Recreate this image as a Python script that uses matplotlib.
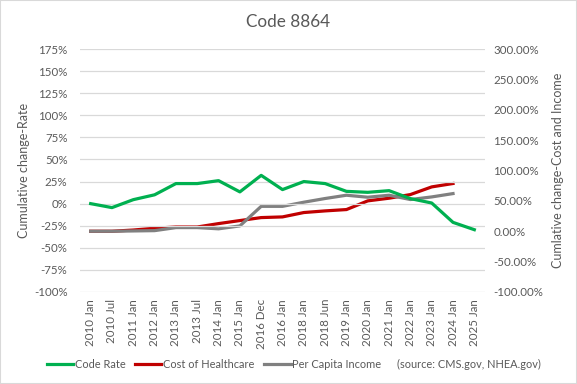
import numpy as np
import matplotlib.pyplot as plt
from matplotlib.patches import Rectangle
from matplotlib.ticker import FuncFormatter

categories = ['2010 Jan', '2010 Jul', '2011 Jan', '2012 Jan', '2013 Jan', '2013 Jul',
              '2014 Jan', '2015 Jan', '2016 Dec', '2016 Jan', '2018 Jan', '2018 Jun',
              '2019 Jan', '2020 Jan', '2021 Jan', '2022 Jan', '2023 Jan', '2024 Jan',
              '2025 Jan']

# percent values
code_rate = [0, -4.5, 4.5, 10, 22.7, 22.7, 26, 13.3, 32, 15.9,
             25, 22.7, 13.9, 12.8, 14.7, 5.7, 0.7, -21.2, -29.5]
cost_healthcare = [0, 0, 2, 5, 7, 7, 12.6, 17.6, 22.5, 23.6,
                   30.8, 33.5, 35.7, 50, 54.4, 60.4, 73, 78.6, np.nan]
per_capita_income = [0, 0, 0.5, 1, 6, 6, 4, 8.8, 41, 41,
                     47.8, 53.9, 59.3, 56, 59.3, 52.2, 56.5, 62, np.nan]

green = '#00B050'
red = '#C00000'
gray = '#808080'
txt = '#595959'
grid = '#D9D9D9'

plt.rcParams['font.family'] = ['Lato', 'DejaVu Sans']

fig = plt.figure(figsize=(5.77, 3.84), dpi=100)
ax = fig.add_axes([80/577, 1 - 292/384, 405/577, 243/384])
ax2 = ax.twinx()

x = np.arange(len(categories))
l1, = ax.plot(x, code_rate, color=green, lw=2.3, solid_joinstyle='round')
l2, = ax2.plot(x, cost_healthcare, color=red, lw=2.3, solid_joinstyle='round')
l3, = ax2.plot(x, per_capita_income, color=gray, lw=2.3, solid_joinstyle='round')
ax.set_zorder(ax2.get_zorder() + 1)
ax.patch.set_visible(False)

ax.set_xlim(-0.5, len(categories) - 0.5)
ax.set_ylim(-100, 175)
ax.set_yticks(np.arange(-100, 176, 25))
ax.yaxis.set_major_formatter(FuncFormatter(lambda v, p: '%d%%' % v))
ax2.set_ylim(-100, 300)
ax2.set_yticks(np.arange(-100, 301, 50))
ax2.yaxis.set_major_formatter(FuncFormatter(lambda v, p: '%.2f%%' % v))

ax.set_xticks(x)
ax.set_xticklabels(categories, rotation=90)
ax.grid(axis='y', color=grid, lw=0.9)
ax.set_axisbelow(True)

for a in (ax, ax2):
    for s in a.spines.values():
        s.set_visible(False)
    a.tick_params(length=0, labelsize=8.3, colors=txt)
ax.tick_params(axis='y', pad=9)
ax2.tick_params(axis='y', pad=6)
ax.tick_params(axis='x', pad=5)

ax.set_ylabel('Cumulative change-Rate', fontsize=9, color=txt, labelpad=3)
ax2.set_ylabel('Cumlative change-Cost and Income', fontsize=9, color=txt, labelpad=6)

fig.text(0.5, 1 - 22/384, 'Code 8864', ha='center', va='center', fontsize=12.3, color=txt)

fig.legend([l1, l2, l3], ['Code Rate', 'Cost of Healthcare', 'Per Capita Income'],
           loc='center', bbox_to_anchor=(214/577, 1 - 364/384), ncol=3, frameon=False,
           fontsize=7.9, labelcolor=txt, handlelength=2.4, handletextpad=0.15,
           columnspacing=0.9)
fig.text(397/577, 1 - 364/384, '(source: CMS.gov, NHEA.gov)', ha='left', va='center',
         fontsize=7.9, color=txt)

fig.patches.append(Rectangle((0, 0), 1, 1, transform=fig.transFigure, fill=False,
                             edgecolor=grid, lw=1.5))

fig.savefig('out.png', dpi=100)
